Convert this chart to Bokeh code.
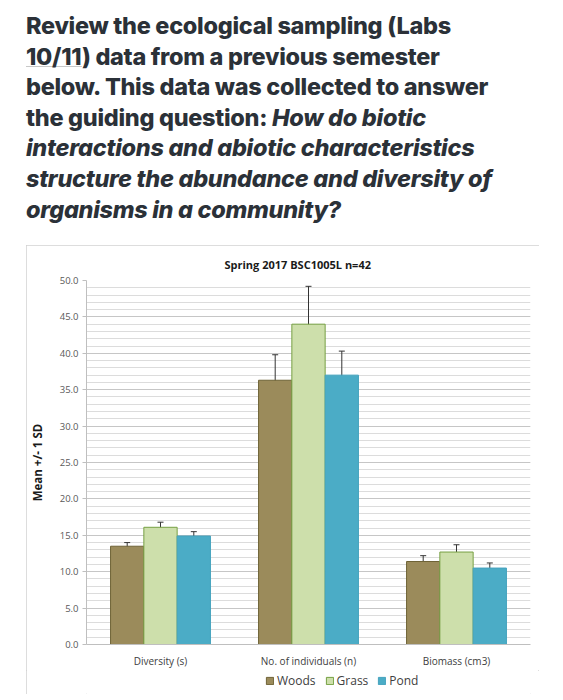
from bokeh.plotting import figure
from bokeh.models import (ColumnDataSource, Range1d, FactorRange, SingleIntervalTicker,
                          NumeralTickFormatter, Whisker, TeeHead, Div, Spacer)
from bokeh.transform import dodge
from bokeh.layouts import column, row
from bokeh.embed import file_html
from bokeh.resources import INLINE

# ---- data ----
categories = ["Diversity (s)", "No. of individuals (n)", "Biomass (cm3)"]
series = ["Woods", "Grass", "Pond"]
woods_mean = [13.5, 36.3, 11.4]
woods_sd = [0.5, 3.5, 0.8]
grass_mean = [16.1, 44.0, 12.7]
grass_sd = [0.7, 5.2, 1.0]
pond_mean = [14.9, 37.0, 10.5]
pond_sd = [0.6, 3.3, 0.7]
y_ticks_interval = 5
chart_title = "Spring 2017 BSC1005L n=42"
y_label = "Mean +/- 1 SD"

fills = ["#9b8b5b", "#cddfab", "#4bacc6"]
lines = ["#6f6336", "#76a043", "#45a3be"]
offsets = [-0.225, 0.0, 0.225]
means = [woods_mean, grass_mean, pond_mean]
sds = [woods_sd, grass_sd, pond_sd]

heading = (
    '<div style="font-family:Inter, \'Noto Sans\', sans-serif; font-weight:800; '
    'font-size:23.5px; line-height:30.6px; color:#2b3138; white-space:nowrap; '
    'letter-spacing:-0.3px; padding-top:6px; padding-left:21px;">'
    'Review the ecological sampling (Labs<br>'
    '<span style="text-decoration:underline; text-decoration-color:#c8c8c8; text-decoration-thickness:1px;">10/11</span>) data from a previous semester<br>'
    'below. This data was collected to answer<br>'
    'the guiding question: <i>How do biotic</i><br>'
    '<i>interactions and abiotic characteristics</i><br>'
    '<i>structure the abundance and diversity of</i><br>'
    '<i>organisms in a community?</i>'
    '</div>'
)
div = Div(text=heading, width=547, height=232)

p = figure(x_range=FactorRange(*categories), y_range=Range1d(0, 50),
           width=513, height=425, output_backend="svg", toolbar_location=None,
           title=chart_title, min_border_left=60, min_border_right=9,
           min_border_top=35, min_border_bottom=26)

p.title.align = "left"
p.title.offset = 138
p.title.text_font = "Open Sans"
p.title.text_font_style = "bold"
p.title.text_font_size = "11px"
p.title.text_color = "#1a1a1a"
p.title.standoff = 17
p.outline_line_color = None
p.background_fill_color = "white"
p.border_fill_color = "white"

p.yaxis.ticker = SingleIntervalTicker(interval=y_ticks_interval, num_minor_ticks=5)
p.yaxis.formatter = NumeralTickFormatter(format="0.0")
p.yaxis.axis_label = y_label
p.yaxis.axis_label_text_font = "Open Sans"
p.yaxis.axis_label_text_font_style = "bold"
p.yaxis.axis_label_text_font_size = "11.5px"
p.yaxis.axis_label_text_color = "#1a1a1a"
p.yaxis.axis_label_standoff = 12
p.yaxis.major_label_text_font = "Open Sans"
p.yaxis.major_label_text_font_size = "9.5px"
p.yaxis.major_label_text_color = "#595959"
p.yaxis.major_tick_out = 4
p.yaxis.major_tick_in = 0
p.yaxis.minor_tick_line_color = None
p.yaxis.major_tick_line_color = "#bfbfbf"
p.yaxis.axis_line_color = "#bfbfbf"
p.yaxis.major_label_standoff = 4

p.xaxis.major_label_text_font = "Open Sans"
p.xaxis.major_label_text_font_size = "10px"
p.xaxis.major_label_text_color = "#404040"
p.xaxis.major_tick_line_color = None
p.xaxis.axis_line_color = "#bfbfbf"
p.xaxis.major_label_standoff = 3

p.xgrid.grid_line_color = None
p.ygrid.grid_line_color = "#c6c6c6"
p.ygrid.minor_grid_line_color = "#dcdcdc"

# legend strip below the x axis (its renderers are hidden; only the legend shows)
lp = figure(width=513, height=24, output_backend="svg", toolbar_location=None,
            x_range=Range1d(0, 1), y_range=Range1d(0, 1),
            x_axis_location=None, y_axis_location=None,
            min_border_left=0, min_border_right=0, min_border_top=0, min_border_bottom=0)
lp.grid.visible = False
lp.outline_line_color = None
lp.border_fill_color = "white"

for name, m, s, f, lc, off in zip(series, means, sds, fills, lines, offsets):
    src = ColumnDataSource(dict(cat=categories, mean=m,
                                upper=[a + b for a, b in zip(m, s)],
                                lower=[a - b for a, b in zip(m, s)]))
    p.vbar(x=dodge("cat", off, range=p.x_range), top="mean", width=0.225,
           source=src, fill_color=f, line_color=lc, line_width=1)
    w = Whisker(base=dodge("cat", off, range=p.x_range), upper="upper", lower="lower",
                source=src, line_color="#333333", line_width=1,
                upper_head=TeeHead(size=6, line_color="#333333", line_width=1),
                lower_head=TeeHead(size=6, line_color="#333333", line_width=1))
    p.add_layout(w)
    lr = lp.vbar(x="mean", top="mean", width=0.1, source=src,
                 fill_color=f, line_color=lc, legend_label=name)
    lr.visible = False

lg = lp.legend[0]
lg.orientation = "horizontal"
lg.location = (179, 5)
lg.label_text_font = "Open Sans"
lg.label_text_font_size = "12px"
lg.label_text_color = "#404040"
lg.glyph_width = 9
lg.glyph_height = 9
lg.label_standoff = 3
lg.spacing = 9
lg.padding = 0
lg.margin = 0
lg.label_height = 14
lg.border_line_color = None
lg.background_fill_alpha = 0
lg.inactive_fill_alpha = 0

chart = column(p, lp, styles={"outline": "1px solid #d2d2d2", "outline-offset": "-1px"})
layout = column(div, Spacer(height=3), row(Spacer(width=26), chart))
open("out.html", "w").write(file_html(layout, INLINE))
